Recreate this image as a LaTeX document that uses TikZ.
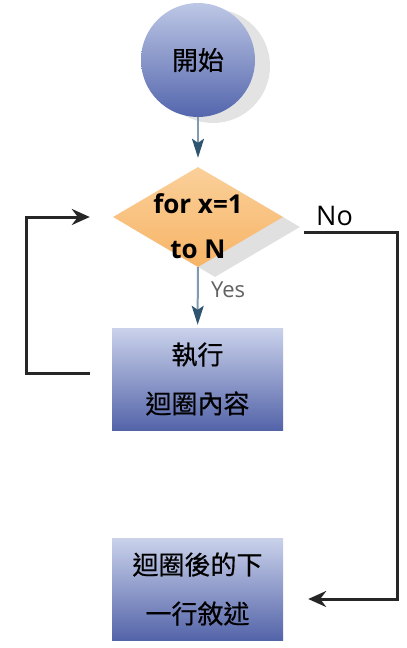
\documentclass[tikz,border=0pt]{standalone}
\usepackage{fontspec}
\setmainfont{Open Sans}
\newfontfamily\cjk{Noto Sans CJK TC}[FakeBold=0.5]
\usetikzlibrary{shapes.geometric, arrows.meta, shadows}
\definecolor{circtop}{HTML}{BDC7E5}
\definecolor{circbot}{HTML}{5466AD}
\definecolor{boxtop}{HTML}{CAD2EB}
\definecolor{boxbot}{HTML}{5464A9}
\definecolor{diatop}{HTML}{FAD09A}
\definecolor{diabot}{HTML}{F7B466}
\definecolor{linkblue}{HTML}{7F9BB3}
\definecolor{tipblue}{HTML}{2F5470}

\begin{document}
\begin{tikzpicture}[x=1pt, y=-1pt,
  startnode/.style={
    circle,
    minimum size=114pt,
    inner sep=0pt,
    top color=circtop,
    bottom color=circbot,
    drop shadow={shadow xshift=15pt, shadow yshift=-6pt, fill=black!11, opacity=1},
    font=\cjk\fontsize{26}{30}\selectfont
  },
  decision/.style={
    diamond,
    minimum width=170pt,
    minimum height=100pt,
    inner sep=0pt,
    top color=diatop,
    bottom color=diabot,
    drop shadow={shadow xshift=17pt, shadow yshift=-10pt, fill=black!12, opacity=1}
  },
  fortext/.style={
    align=center,
    font=\bfseries\fontsize{26}{45}\selectfont
  },
  process/.style={
    rectangle,
    minimum width=171pt,
    minimum height=102pt,
    inner sep=0pt,
    top color=boxtop,
    bottom color=boxbot,
    align=center,
    font=\cjk\fontsize{26}{49}\selectfont
  },
  flow/.style={
    -{Stealth[length=19pt, width=12pt, inset=4pt, color=tipblue]},
    line width=2pt,
    draw=linkblue
  },
  back/.style={
    -{Stealth[length=18pt, width=16pt, inset=6pt]},
    line width=3pt,
    draw=black!85
  }
]

\useasboundingbox (0,0) rectangle (407,648);

% Nodes
\node[startnode] (start) at (198,60) {開始};
\node[decision, label={[fortext, yshift=-9pt]center:{for x=1\\to N}}] (loop) at (198,217) {};
\node[process] (body)  at (197.5,379) {執行\\迴圈內容};
\node[process] (after) at (197.5,589) {迴圈後的下\\一行敘述};

% Forward flow
\draw[flow, shorten >=9pt] (start) -- (loop);
\draw[flow, shorten >=3pt] (loop) --
node[pos=0.38, right=9pt, font=\fontsize{22}{24}\selectfont, text=black!62] {Yes}
(body);

% Back to the test
\draw[back, shorten <=22pt, shorten >=23pt]
([yshift=6pt]body.west) -- ++(-85pt,0) |- (loop.west);

% Leaving the loop
\draw[back, shorten <=21pt, shorten >=25pt]
([yshift=-15pt]loop.east) -- ++(114pt,0)
node[pos=0.45, above=1pt, font=\fontsize{27}{30}\selectfont] {No}
|- ([yshift=-10pt]after.east);

\end{tikzpicture}
\end{document}
